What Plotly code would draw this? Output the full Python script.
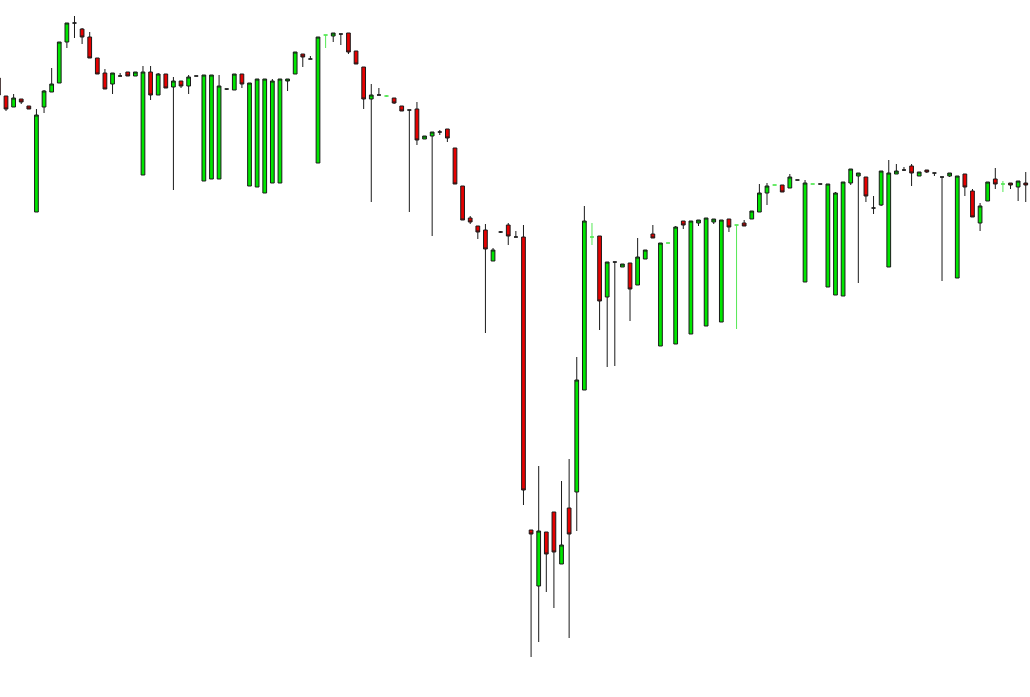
import plotly.graph_objects as go

# Candle data (price units; index = bar number)
kinds = list(
    "rrgrrggggg" "krrrrgkrgg" "rgrgrgkggg" "kgrggggggg"
    "rkglgkrrrg" "klrrkrggkr" "rrrrrgkrkr" "rgrrgrgglr"
    "gkgrggrglg" "rgggggrlrg" "gglrgkglkg" "ggggrkgggk"
    "rgrkkggrrg" "grlrgr"
)
opens = [619, 601, 590, 598, 591, 485, 590, 605, 614, 655,
         674, 668, 660, 639, 624, 613, 621, 625, 621, 522,
         625, 602, 623, 610, 616, 611, 621, 516, 518, 518,
         608, 607, 623, 511, 510, 504, 514, 514, 616, 623,
         643, 638, 534, 662, 661, 663, 664, 646, 630, 598,
         602, 601, 599, 591, 587, 588, 558, 561, 565, 568,
         549, 511, 479, 471, 467, 436, 465, 472, 460, 460,
         167, 111, 165, 185, 133, 189, 205, 307, 460, 461,
         400, 435, 430, 434, 412, 438, 463, 351, 454, 353,
         476, 363, 474, 371, 475, 375, 478, 472, 474, 478,
         485, 504, 512, 512, 509, 517, 415, 513, 513, 410,
         402, 401, 514, 521, 520, 489, 492, 430, 523, 527,
         531, 521, 527, 524, 520, 521, 419, 523, 506, 474,
         496, 518, 513, 514, 510, 514]
highs = [619, 601, 603, 598, 591, 588, 607, 629, 655, 674,
         681, 669, 665, 639, 628, 624, 624, 625, 625, 631,
         631, 624, 623, 620, 616, 622, 621, 622, 622, 622,
         608, 623, 623, 614, 618, 618, 618, 618, 618, 645,
         643, 641, 660, 662, 664, 663, 664, 646, 630, 613,
         609, 602, 599, 591, 587, 595, 561, 565, 567, 568,
         549, 511, 481, 471, 473, 449, 466, 474, 466, 472,
         167, 231, 165, 185, 216, 238, 340, 491, 474, 461,
         435, 435, 433, 434, 459, 447, 472, 454, 454, 471,
         476, 476, 477, 479, 478, 477, 478, 472, 477, 486,
         513, 514, 512, 512, 523, 517, 517, 513, 513, 513,
         505, 515, 528, 524, 520, 501, 526, 537, 533, 530,
         533, 525, 527, 524, 520, 524, 521, 523, 508, 494,
         515, 529, 516, 514, 516, 525]
lows = [602, 586, 590, 593, 588, 485, 584, 605, 614, 649,
        659, 653, 639, 623, 608, 603, 621, 621, 621, 522,
        597, 602, 609, 507, 609, 603, 621, 516, 518, 518,
        607, 607, 609, 511, 510, 504, 514, 514, 606, 623,
        630, 638, 534, 649, 655, 652, 643, 633, 588, 495,
        602, 600, 593, 586, 485, 552, 558, 461, 562, 555,
        513, 477, 473, 458, 364, 436, 464, 452, 460, 192,
        40, 55, 105, 89, 133, 59, 166, 307, 452, 367,
        330, 331, 430, 376, 412, 438, 459, 351, 454, 353,
        468, 363, 471, 371, 473, 375, 465, 368, 471, 478,
        485, 492, 512, 505, 509, 517, 415, 513, 513, 410,
        402, 401, 512, 414, 495, 483, 491, 430, 523, 526,
        511, 521, 524, 521, 416, 520, 419, 501, 480, 466,
        496, 508, 505, 508, 496, 495]
closes = [602, 588, 599, 595, 588, 582, 606, 613, 655, 674,
          674, 660, 639, 623, 608, 624, 621, 621, 625, 625,
          602, 623, 609, 616, 611, 620, 621, 622, 622, 611,
          608, 623, 613, 614, 618, 618, 616, 618, 618, 645,
          640, 638, 660, 662, 664, 663, 645, 633, 598, 602,
          602, 601, 594, 586, 587, 557, 561, 565, 565, 559,
          513, 477, 475, 465, 448, 447, 465, 461, 460, 207,
          163, 166, 143, 145, 152, 163, 317, 476, 460, 396,
          435, 435, 433, 408, 440, 447, 459, 454, 454, 470,
          472, 476, 477, 479, 478, 477, 470, 472, 471, 486,
          504, 511, 512, 505, 520, 517, 514, 513, 513, 513,
          504, 515, 528, 524, 501, 489, 526, 524, 526, 527,
          524, 525, 525, 524, 520, 524, 521, 510, 480, 491,
          515, 513, 513, 512, 516, 512]

styles = {
    "g": ("#1a1a1a", "#00e600"),
    "r": ("#1a1a1a", "#e60000"),
    "k": ("#1a1a1a", "#1a1a1a"),
    "l": ("#55E855", "#55E855"),
}

fig = go.Figure()
for k, (lc, fc) in styles.items():
    idx = [i for i, kk in enumerate(kinds) if kk == k]
    fig.add_trace(go.Candlestick(
        x=idx,
        open=[opens[i] for i in idx],
        high=[highs[i] for i in idx],
        low=[lows[i] for i in idx],
        close=[closes[i] for i in idx],
        increasing=dict(line=dict(color=lc, width=1), fillcolor=fc),
        decreasing=dict(line=dict(color=lc, width=1), fillcolor=fc),
        whiskerwidth=0,
        hoverinfo="skip",
        showlegend=False,
    ))

fig.update_layout(
    width=1030, height=697,
    margin=dict(l=0, r=0, t=0, b=0),
    paper_bgcolor="white", plot_bgcolor="white",
    xaxis=dict(visible=False, range=[0.212, 135.56],
               rangeslider=dict(visible=False)),
    yaxis=dict(visible=False, range=[0, 697]),
)
fig.write_html("out.html", config={"displayModeBar": False},
               post_script="document.body.style.margin='0';")
